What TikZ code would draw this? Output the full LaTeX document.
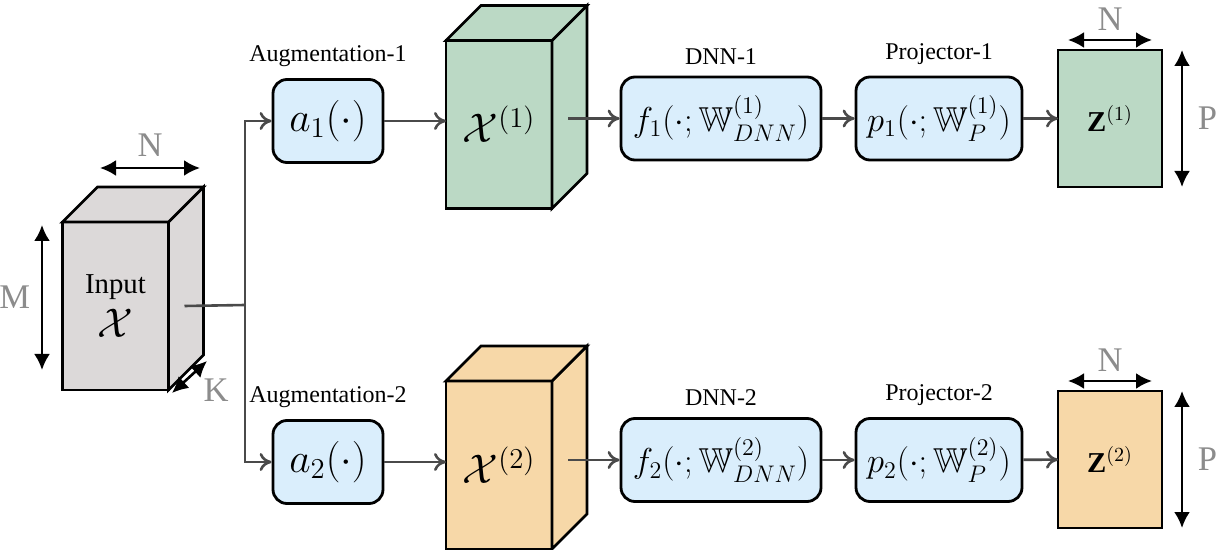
\documentclass[tikz,border=0pt]{standalone}
\usepackage{amssymb}
\usepackage{fontspec}
\setmainfont{Liberation Serif}
\usetikzlibrary{arrows.meta, positioning, calc}
\definecolor{cubegray}{HTML}{DCD9D9}
\definecolor{cubegreen}{HTML}{BBD9C5}
\definecolor{cubeorange}{HTML}{F7D8A8}
\definecolor{boxblue}{HTML}{DAEEFC}
\definecolor{linegray}{HTML}{4A4A4A}
\definecolor{dimgray}{HTML}{8C8C8C}
\tikzset{
	face/.style = {rectangle, draw = black, line width = 1.4pt, outer sep = 0pt, minimum width = 53pt, minimum height = 84pt, text centered},
	func/.style = {rectangle, draw = black, line width = 1.4pt, rounded corners = 7pt, fill = boxblue, minimum height = 41.5pt, inner xsep = 1pt, text centered, font = \LARGE},
	zbox/.style = {rectangle, draw = black, line width = 1.4pt, outer sep = 0pt, minimum width = 52pt, minimum height = 68.5pt, text centered},
	arrow/.style = {-{To[length=6pt,width=9pt]}, draw = linegray, line width = 1.3pt},
	dim/.style = {{Latex[length=8pt,width=8pt]}-{Latex[length=8pt,width=8pt]}, line width = 1.3pt},
	dimlabel/.style = {text = dimgray, font = \LARGE},
	caption/.style = {font = \large}
}
\newcommand{\cubesides}[2]{%
	\draw [line width = 1.4pt, fill = #2] (#1.north east) -- ++(17.5pt,17.5pt) -- ++(0,-84pt) -- (#1.south east) -- cycle;
	\draw [line width = 1.4pt, fill = #2] (#1.north west) -- ++(17.5pt,17.5pt) -- ++(53pt,0) -- (#1.north east) -- cycle;
}
\begin{document}
\begin{tikzpicture}[x = 0.5pt, y = -0.5pt]
	\useasboundingbox (0,0) rectangle (1220,550);

		%% input cube
		\node (in) [face, fill = cubegray, align = center, font = \Large] at (115.5,306) {Input\\[4pt]\huge$\mathcal{X}$};
		\cubesides{in}{cubegray}
		\draw [dim] (100,168) -- (200,168) node (inN) [dimlabel, midway, above = 2pt] {N};
		\draw [dim] (42,225) -- (42,370) node (inM) [dimlabel, midway, left = 2pt] {M};
		\draw [dim] (172,393) -- (207,361);
		\node (inK) [dimlabel] at (216,390) {K};

		%% branch 1
		\node (a1) [func, minimum width = 55pt, font = \huge] at (328,121) {$a_1(\cdot)$};
		\node [caption, above = 2pt of a1] {Augmentation-1};
		\node (x1) [face, fill = cubegreen] at (499,124.5) {\huge$\mathcal{X}^{(1)}$};
		\cubesides{x1}{cubegreen}
		\node (dnn1) [func, minimum width = 100pt] at (721,118.5) {$f_1(\cdot;\mathbb{W}^{(1)}_{DNN})$};
		\node [caption, above = 2pt of dnn1] {DNN-1};
		\node (proj1) [func, minimum width = 83pt] at (939,118.5) {$p_1(\cdot;\mathbb{W}^{(1)}_{P})$};
		\node [caption, above = 2pt of proj1] {Projector-1};
		\node (z1) [zbox, fill = cubegreen] at (1110,118.5) {\Large$\mathbf{Z}^{(1)}$};
		\draw [dim] (z1.north west) ++(10,-10) -- ++(84,0) node [dimlabel, midway, above = 1pt] {N};
		\draw [dim] (1182,50) -- (1182,187) node [dimlabel, midway, right = 4pt] {P};

		%% branch 2
		\node (a2) [func, minimum width = 55pt, font = \huge] at (328,462) {$a_2(\cdot)$};
		\node [caption, above = 2pt of a2] {Augmentation-2};
		\node (x2) [face, fill = cubeorange] at (499,465) {\huge$\mathcal{X}^{(2)}$};
		\cubesides{x2}{cubeorange}
		\node (dnn2) [func, minimum width = 100pt] at (721,460) {$f_2(\cdot;\mathbb{W}^{(2)}_{DNN})$};
		\node [caption, above = 2pt of dnn2] {DNN-2};
		\node (proj2) [func, minimum width = 83pt] at (939,460) {$p_2(\cdot;\mathbb{W}^{(2)}_{P})$};
		\node [caption, above = 2pt of proj2] {Projector-2};
		\node (z2) [zbox, fill = cubeorange] at (1110,459.5) {\Large$\mathbf{Z}^{(2)}$};
		\draw [dim] (z2.north west) ++(10,-10) -- ++(84,0) node [dimlabel, midway, above = 1pt] {N};
		\draw [dim] (1182,391) -- (1182,528) node [dimlabel, midway, right = 4pt] {P};

		%%% arrows %%%
		\coordinate (jn) at (245,305);
		\draw [draw = linegray, line width = 1.3pt] ([xshift = 8pt]in.east) -- (jn);
		\draw [arrow] (jn) |- (a1.west);
		\draw [arrow] (jn) |- (a2.west);
		\draw [arrow] (a1.east) -- (a1.east -| x1.west);
		\draw [arrow] (a2.east) -- (a2.east -| x2.west);
		\draw [arrow] ([xshift = 8pt]x1.east |- dnn1.west) -- (dnn1.west);
		\draw [arrow] ([xshift = 8pt]x2.east |- dnn2.west) -- (dnn2.west);
		\draw [arrow] (dnn1) -- (proj1);
		\draw [arrow] (dnn2) -- (proj2);
		\draw [arrow] (proj1) -- (z1);
		\draw [arrow] (proj2) -- (z2);
\end{tikzpicture}
\end{document}
